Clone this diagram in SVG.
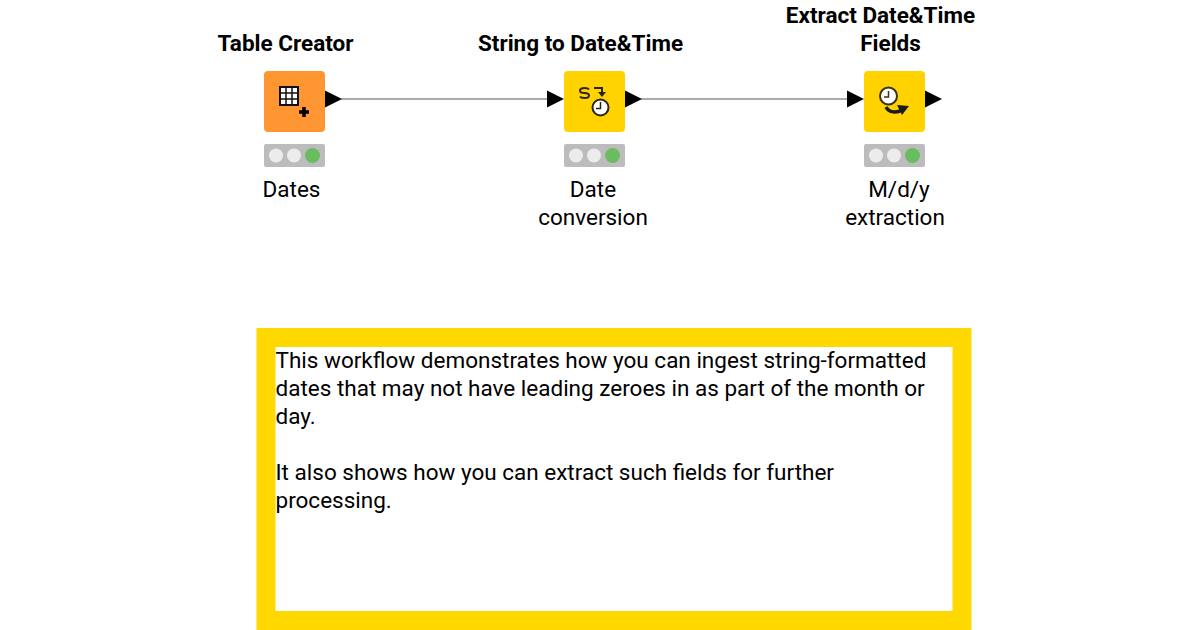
<svg xmlns="http://www.w3.org/2000/svg" width="1200" height="630" viewBox="0 0 1200 630">
<style>
text{font-family:Roboto,"Liberation Sans",sans-serif;font-size:22.5px;fill:#000;text-anchor:middle}
.t{font-weight:700}
.a{text-anchor:start}
.port{fill:#000}
.bar{fill:#bcbcbc}
.off{fill:#ececec}
.on{fill:#69bd5f}
.ic{fill:none;stroke:#2a2410;stroke-width:2}
</style>
<defs>
<g id="status"><rect x="0" y="0" width="61" height="23" rx="2" class="bar"/><circle cx="12" cy="11.500" r="7" class="off"/><circle cx="30" cy="11.500" r="7" class="off"/><circle cx="48.500" cy="11.500" r="7.500" class="on"/></g>
</defs>
<rect width="1200" height="630" fill="#fff"/>
<g id="connectors" stroke="#ababab" stroke-width="2" fill="none">
<path d="M341 99H548"/><path d="M641 99H848"/>
</g>
<g id="table-creator">
<text class="t" x="285.500" y="51">Table Creator</text>
<rect x="264" y="71" width="61" height="61" rx="4" fill="#ff9632"/>
<rect x="280" y="87" width="18" height="18" fill="#fff" stroke="#111" stroke-width="2"/>
<path d="M286 87V105M292 87V105M280 93H298M280 99H298" stroke="#111" stroke-width="1.500" fill="none"/>
<path d="M304 107V117M299 112H309" stroke="#000" stroke-width="3.500" fill="none"/>
<path class="port" d="M325 90.500L342 99L325 107.500Z"/>
<use href="#status" x="264" y="144"/>
<text x="291.500" y="197">Dates</text>
</g>
<g id="string-to-datetime">
<text class="t" x="580.500" y="51">String to Date&amp;Time</text>
<path class="port" d="M547 90.500L564 99L547 107.500Z"/>
<rect x="564" y="71" width="61" height="61" rx="4" fill="#ffd200"/>
<path class="ic" d="M589 89.500Q588 88 584.500 88Q580 88 580 90.500Q580 93 584.500 93Q589 93 589 95.500Q589 98 584.500 98Q581 98 580 96.500"/>
<path class="ic" d="M594 88H602V93"/>
<path d="M598 92L602 97L606 92Z" fill="#2a2410"/>
<circle cx="600.500" cy="107.500" r="8" fill="#fff" stroke="#2a2410" stroke-width="2"/>
<path d="M600.500 102V108.500H596" fill="none" stroke="#2a2410" stroke-width="1.500"/>
<path class="port" d="M625 90.500L642 99L625 107.500Z"/>
<use href="#status" x="564" y="144"/>
<text x="593" y="197">Date</text>
<text x="593" y="225">conversion</text>
</g>
<g id="extract-datetime">
<text class="t" x="880.500" y="23">Extract Date&amp;Time</text>
<text class="t" x="890.500" y="51">Fields</text>
<path class="port" d="M847 90.500L864 99L847 107.500Z"/>
<rect x="864" y="71" width="61" height="61" rx="4" fill="#ffd200"/>
<circle cx="888.500" cy="96" r="8.500" fill="#fff" stroke="#3a3210" stroke-width="2"/>
<path d="M888.500 91V97H884" fill="none" stroke="#3a3210" stroke-width="1.500"/>
<path d="M886 107C889 113 897 113 902 110" fill="none" stroke="#1a1a1a" stroke-width="3.500"/>
<path d="M897 105L909 106L902 115Z" fill="#1a1a1a"/>
<path class="port" d="M925 90.500L942 99L925 107.500Z"/>
<use href="#status" x="864" y="144"/>
<text x="899" y="197">M/d/y</text>
<text x="895" y="225">extraction</text>
</g>
<g id="annotation">
<rect x="266" y="337.500" width="696" height="283" fill="#fff" stroke="#ffd800" stroke-width="19"/>
<text class="a" x="275.500" y="367.500">This workflow demonstrates how you can ingest string-formatted</text>
<text class="a" x="275.500" y="395.500">dates that may not have leading zeroes in as part of the month or</text>
<text class="a" x="275.500" y="423.500">day.</text>
<text class="a" x="275.500" y="479.500">It also shows how you can extract such fields for further</text>
<text class="a" x="275.500" y="507.500">processing.</text>
</g>
</svg>
